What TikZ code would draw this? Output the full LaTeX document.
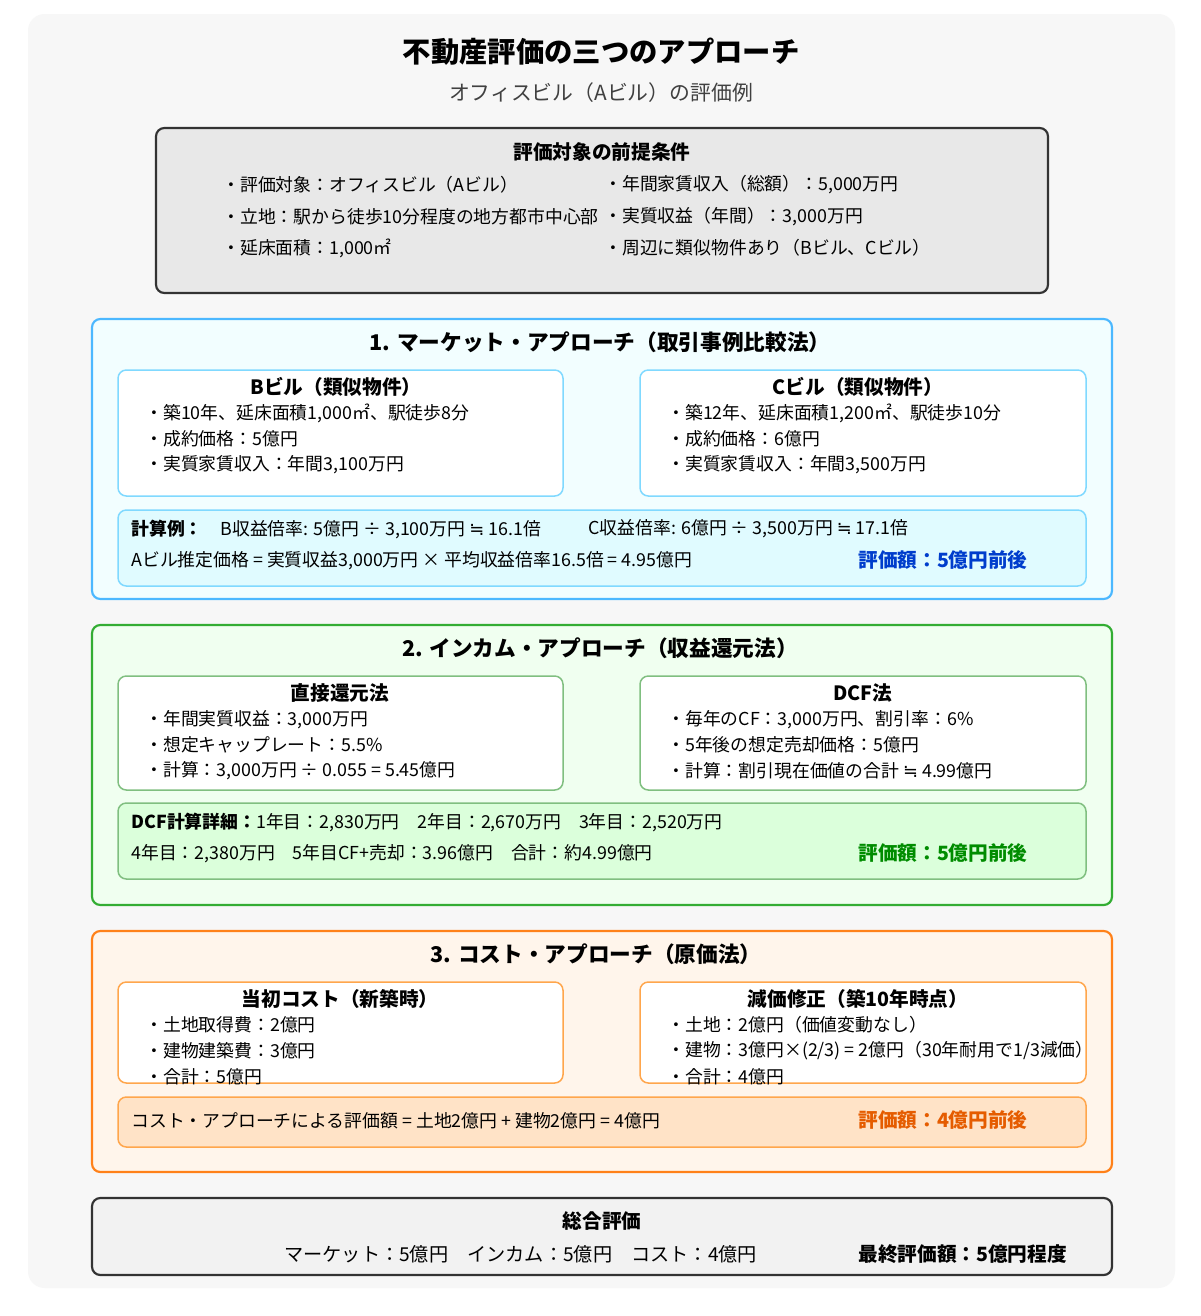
\documentclass[tikz,border=0pt]{standalone}
\usepackage{fontspec}
\setmainfont{Noto Sans CJK JP}
\newfontfamily\myDejaVu{DejaVu Sans}
\newcommand{\myApprox}{{\myDejaVu ≒}}
\begin{document}
\begin{tikzpicture}[x=0.6pt,y=-0.6pt,
 t/.style={anchor=west,inner sep=0,font=\fontsize{10.7}{12}\selectfont},
 h/.style={anchor=center,inner sep=0,font=\fontsize{11.8}{13}\selectfont\bfseries},
 ev/.style={anchor=west,inner sep=0,font=\fontsize{11.8}{13}\selectfont\bfseries},
 box/.style={rounded corners=5pt,line width=0.9pt}]
\useasboundingbox (0,0) rectangle (1200,1316);
\fill[fill=white] (0,0) rectangle (1200,1316);
\fill[fill=black!3,rounded corners=10pt] (28,14) rectangle (1175,1288);
\node[font=\fontsize{17}{19}\selectfont\bfseries] (title) at (601,52) {不動産評価の三つのアプローチ};
\node[font=\fontsize{12.5}{14}\selectfont,text=black!75] (sub) at (601,93) {オフィスビル（Aビル）の評価例};
% premise
\draw[box,fill=black!9,draw=black!80,line width=1.3pt] (156,128) rectangle (1048,293);
\node[h] (p0) at (602,152) {評価対象の前提条件};
\node[t] (p1) at (222,185) {・評価対象：オフィスビル（Aビル）};
\node[t] (p2) at (222,217) {・立地：駅から徒歩10分程度の地方都市中心部};
\node[t] (p3) at (222,248) {・延床面積：1,000㎡};
\node[t] (p4) at (604,185) {・年間家賃収入（総額）：5,000万円};
\node[t] (p5) at (604,217) {・実質収益（年間）：3,000万円};
\node[t] (p6) at (604,248) {・周辺に類似物件あり（Bビル、Cビル）};
% market
\draw[box,fill=blue!4!cyan!5,draw=blue!40!cyan!70,line width=1.3pt] (92,319) rectangle (1112,599);
\node[h,font=\fontsize{13}{14}\selectfont\bfseries] (m0) at (600,342) {1. マーケット・アプローチ（取引事例比較法）};
\draw[box,fill=white,draw=blue!30!cyan!50] (118,370) rectangle (563,496);
\draw[box,fill=white,draw=blue!30!cyan!50] (640,370) rectangle (1086,496);
\node[h] (mb) at (336,387) {Bビル（類似物件）};
\node[t] (mb1) at (145,413) {・築10年、延床面積1,000㎡、駅徒歩8分};
\node[t] (mb2) at (145,439) {・成約価格：5億円};
\node[t] (mb3) at (145,465) {・実質家賃収入：年間3,100万円};
\node[h] (mc) at (858,387) {Cビル（類似物件）};
\node[t] (mc1) at (667,413) {・築12年、延床面積1,200㎡、駅徒歩10分};
\node[t] (mc2) at (667,439) {・成約価格：6億円};
\node[t] (mc3) at (667,465) {・実質家賃収入：年間3,500万円};
\draw[box,fill=blue!12!cyan!12,draw=blue!30!cyan!50] (118,510) rectangle (1086,586);
\node[t] (mx1) at (131,529) {\textbf{計算例：}\quad B収益倍率: 5億円 ÷ 3,100万円 \myApprox\ 16.1倍};
\node[t] (mx2) at (588,529) {C収益倍率: 6億円 ÷ 3,500万円 \myApprox\ 17.1倍};
\node[t] (mx3) at (131,561) {Aビル推定価格 = 実質収益3,000万円 × 平均収益倍率16.5倍 = 4.95億円};
\node[ev,text=blue!70!cyan!80!black] (mev) at (858,560) {評価額：5億円前後};
% income
\draw[box,fill=green!6,draw=green!60!black!80,line width=1.3pt] (92,625) rectangle (1112,905);
\node[h,font=\fontsize{13}{14}\selectfont\bfseries] (i0) at (600,648) {2. インカム・アプローチ（収益還元法）};
\draw[box,fill=white,draw=green!50!black!50] (118,676) rectangle (563,790);
\draw[box,fill=white,draw=green!50!black!50] (640,676) rectangle (1086,790);
\node[h] (ia) at (340,693) {直接還元法};
\node[t] (ia1) at (145,720) {・年間実質収益：3,000万円};
\node[t] (ia2) at (145,745) {・想定キャップレート：5.5\%};
\node[t] (ia3) at (145,771) {・計算：3,000万円 ÷ 0.055 = 5.45億円};
\node[h] (ib) at (863,693) {DCF法};
\node[t] (ib1) at (667,720) {・毎年のCF：3,000万円、割引率：6\%};
\node[t] (ib2) at (667,745) {・5年後の想定売却価格：5億円};
\node[t] (ib3) at (667,771) {・計算：割引現在価値の合計 \myApprox\ 4.99億円};
\draw[box,fill=green!14,draw=green!50!black!50] (118,803) rectangle (1086,879);
\node[t] (ix1) at (131,822) {\textbf{DCF計算詳細：}1年目：2,830万円\quad 2年目：2,670万円\quad 3年目：2,520万円};
\node[t] (ix2) at (131,854) {4年目：2,380万円\quad 5年目CF+売却：3.96億円\quad 合計：約4.99億円};
\node[ev,text=green!55!black] (iev) at (858,853) {評価額：5億円前後};
% cost
\draw[box,fill=orange!8,draw=orange!90!red!90,line width=1.3pt] (92,931) rectangle (1112,1172);
\node[h,font=\fontsize{13}{14}\selectfont\bfseries] (c0) at (596,954) {3. コスト・アプローチ（原価法）};
\draw[box,fill=white,draw=orange!70] (118,982) rectangle (563,1083);
\draw[box,fill=white,draw=orange!70] (640,982) rectangle (1086,1083);
\node[h] (ca) at (340,999) {当初コスト（新築時）};
\node[t] (ca1) at (145,1025) {・土地取得費：2億円};
\node[t] (ca2) at (145,1051) {・建物建築費：3億円};
\node[t] (ca3) at (145,1077) {・合計：5億円};
\node[h] (cb) at (858,999) {減価修正（築10年時点）};
\node[t] (cb1) at (667,1025) {・土地：2億円（価値変動なし）};
\node[t] (cb2) at (667,1051) {・建物：3億円×(2/3) = 2億円（30年耐用で1/3減価）};
\node[t] (cb3) at (667,1077) {・合計：4億円};
\draw[box,fill=orange!22,draw=orange!70] (118,1097) rectangle (1086,1147);
\node[t] (cx1) at (131,1121) {コスト・アプローチによる評価額 = 土地2億円 + 建物2億円 = 4億円};
\node[ev,text=orange!80!red!90!black] (cev) at (858,1120) {評価額：4億円前後};
% total
\draw[box,fill=black!5,draw=black!80,line width=1.3pt] (92,1198) rectangle (1112,1275);
\node[h] (tt) at (602,1221) {総合評価};
\node[t,font=\fontsize{11.5}{13}\selectfont] (t1) at (284,1254) {マーケット：5億円\quad インカム：5億円\quad コスト：4億円};
\node[ev] (t2) at (858,1254) {最終評価額：5億円程度};
\end{tikzpicture}
\end{document}
